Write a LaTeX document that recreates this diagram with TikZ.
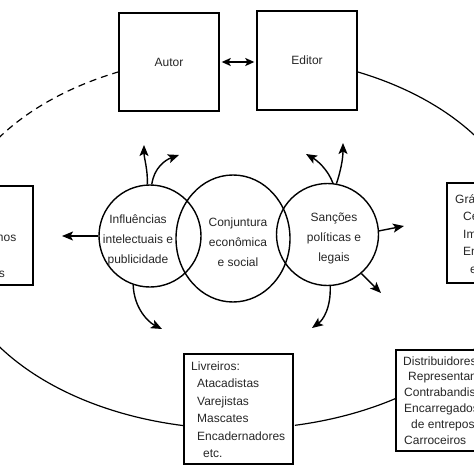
\documentclass[tikz,border=0pt]{standalone}
\usepackage{fontspec}
\setmainfont{Liberation Sans}
\usetikzlibrary{arrows.meta,shapes.geometric}
\begin{document}
\begin{tikzpicture}[x=1pt,y=-1pt,
  font=\fontsize{12}{20}\selectfont,
  box/.style={draw, line width=1.4pt, inner sep=0pt, text=black!85},
  circ/.style={draw, circle, line width=1.4pt, minimum size=102pt, inner sep=0pt},
  ctext/.style={align=center, inner sep=0pt, text=black!85},
  tl/.style={anchor=west, inner sep=0pt, text height=8.6pt, text depth=2.4pt, text=black!85},
  tr/.style={anchor=east, inner sep=0pt, text height=8.6pt, text depth=2.4pt, text=black!85},
  arr/.style={line width=1.4pt, -{Stealth[length=11pt,width=9pt,inset=2.5pt]}},
  dbl/.style={line width=1.4pt, {Stealth[length=9pt,width=8pt,inset=2pt]}-{Stealth[length=9pt,width=8pt,inset=2pt]}, shorten >=2pt, shorten <=2pt},
  ring/.style={line width=1.2pt}
]
\useasboundingbox (0,0) rectangle (474,474);
\clip (0,0) rectangle (474,474);

% top boxes
\node[box, minimum width=100pt, minimum height=98pt] (autor) at (169,62) {Autor};
\node[box, minimum width=100pt, minimum height=99pt] (editor) at (307,60.5) {Editor};
\draw[dbl] (autor.east) -- (autor.east -| editor.west);

% side and bottom boxes
\node[box, minimum width=100pt, minimum height=99pt] (leit) at (-17,235.5) {};
\node[tr] (l3) at (16.5,238) {nos};
\node[tr] (l5) at (5,274) {s};

\node[box, minimum width=100pt, minimum height=100pt] (graf) at (497,233) {};
\node[tl] (g1) at (455,200) {Gráficos:};
\node[tl] (g2) at (463,217.5) {Ce};
\node[tl] (g3) at (463,235) {Impressores};
\node[tl] (g4) at (463,252.5) {En};
\node[tl] (g5) at (470,270) {etc.};

\node[box, minimum width=109pt, minimum height=110pt] (livr) at (238.5,409) {};
\node[tl] (v1) at (191,367) {Livreiros:};
\node[tl] (v2) at (197,384.5) {Atacadistas};
\node[tl] (v3) at (197,402) {Varejistas};
\node[tl] (v4) at (197,419.5) {Mascates};
\node[tl] (v5) at (197,437) {Encadernadores};
\node[tl] (v6) at (203,454.5) {etc.};

\node[box, minimum width=110pt, minimum height=101pt] (dist) at (451,400.5) {};
\node[tl] (d1) at (403,362) {Distribuidores:};
\node[tl] (d2) at (408,377.8) {Representantes};
\node[tl] (d3) at (404,393.6) {Contrabandistas};
\node[tl] (d4) at (404,409.4) {Encarregados};
\node[tl] (d5) at (411,425.2) {de entrepostos};
\node[tl] (d6) at (404,441) {Carroceiros};

% big ring (arcs of one ellipse, centre (238,242))
\coordinate (eA) at ({238+288*cos(245.6)},{242+187*sin(245.6)});
\coordinate (eB) at ({238+288*cos(100.9)},{242+187*sin(100.9)});
\coordinate (eC) at ({238+288*cos(78.6)},{242+187*sin(78.6)});
\coordinate (eD) at ({238+288*cos(35)},{242+187*sin(35)});
\coordinate (eE) at ({238+288*cos(-65.6)},{242+187*sin(-65.6)});
\draw[ring, dash pattern=on 7pt off 5pt] (eA) arc[start angle=245.6, end angle=196, x radius=288, y radius=187];
\draw[ring] (eB) arc[start angle=100.9, end angle=170, x radius=288, y radius=187];
\draw[ring] (eC) arc[start angle=78.6, end angle=56.6, x radius=288, y radius=187];
\draw[ring] (eD) arc[start angle=35, end angle=13, x radius=288, y radius=187];
\draw[ring] (eE) arc[start angle=-65.6, end angle=-18, x radius=288, y radius=187];

% circles
\node[circ] (lc) at (150,236) {};
\node[draw, ellipse, line width=1.4pt, minimum width=114pt, minimum height=127pt, inner sep=0pt] (mc) at (233,238.5) {};
\node[circ] (rc) at (327.5,234.5) {};
\node[ctext] (lt) at (138,240) {Influências\\intelectuais e\\publicidade};
\node[ctext] (mt) at (238,242) {Conjuntura\\econômica\\e social};
\node[ctext] (rt) at (334,238) {Sanções\\políticas e\\legais};

% arrow ends
\coordinate (a1) at (144,145);
\coordinate (a2) at (179,155);
\coordinate (a3) at (62,236);
\coordinate (a4) at (162,329);
\coordinate (b1) at (343,143);
\coordinate (b2) at (306,154);
\coordinate (b3) at (404,226);
\coordinate (b4) at (381,293);
\coordinate (b5) at (312,328);

\draw[arr] (lc.93) .. controls (148,170) and (144,158) .. (a1);
\draw[arr] (lc.88) .. controls (154,168) and (165,160) .. (a2);
\draw[arr] (lc.180) -- (a3);
\draw[arr] (lc.251) .. controls (134,308) and (148,322) .. (a4);
\draw[arr] (rc.80) .. controls (341,170) and (343,158) .. (b1);
\draw[arr] (rc.84) .. controls (328,170) and (318,161) .. (b2);
\draw[arr] (rc.4) -- (b3);
\draw[arr] (rc.-49) -- (b4);
\draw[arr] (rc.273) .. controls (331,308) and (323,320) .. (b5);
\end{tikzpicture}
\end{document}
